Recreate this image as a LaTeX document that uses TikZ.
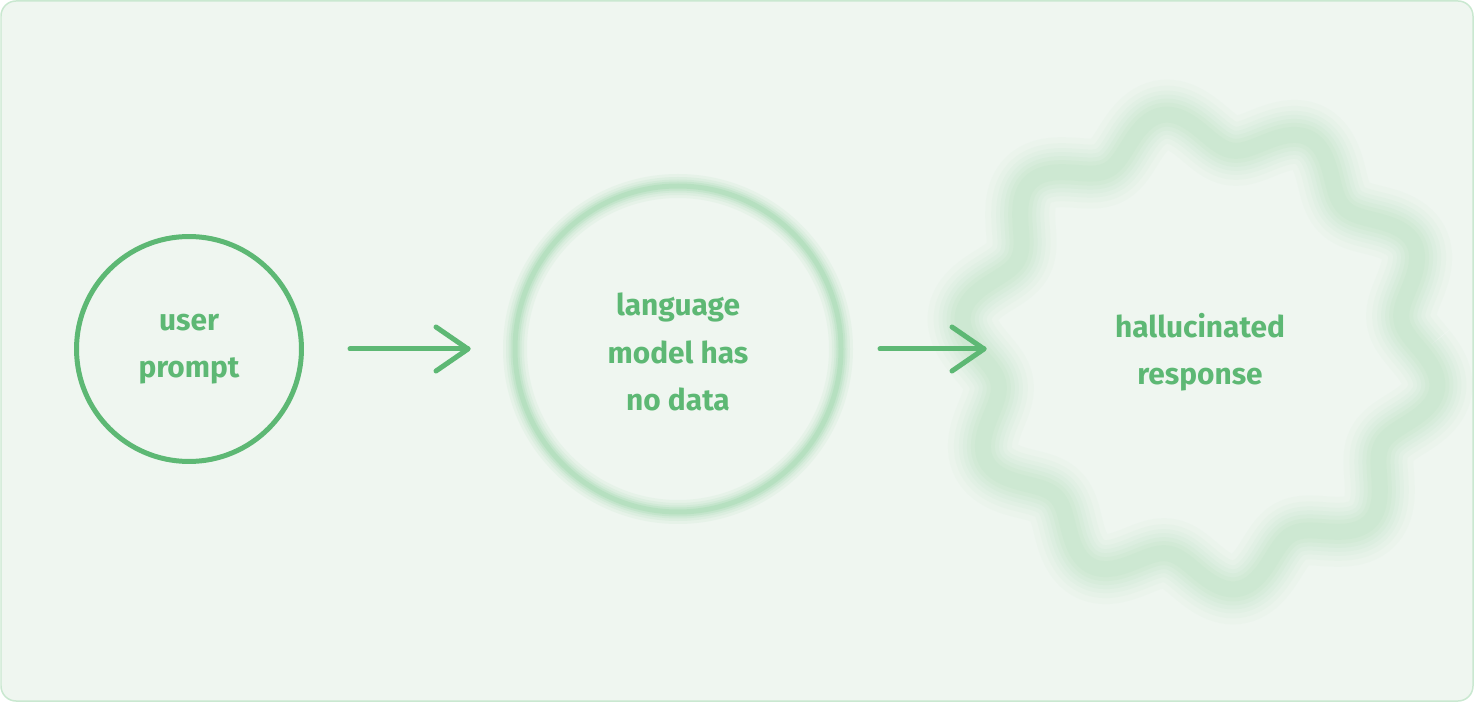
\documentclass[tikz,border=0pt]{standalone}
\usetikzlibrary{calc}
\usepackage{fontspec}
\setmainfont{Fira Sans}
\begin{document}
\begin{tikzpicture}[x=0.02cm,y=-0.02cm,
  lbl/.style={text=gr, font=\fontsize{17}{27}\selectfont\bfseries, align=center},
  arr/.style={draw=gr, line width=0.1cm, line cap=round, line join=round},
]
\definecolor{gr}{HTML}{5DB874}
\definecolor{bg}{HTML}{EFF6F0}
\definecolor{bd}{HTML}{C9E8D0}
\definecolor{blur}{HTML}{A6DBB3}
\useasboundingbox (0,0) rectangle (1474,702);
\draw[bd, fill=bg, line width=0.03cm, rounded corners=0.3cm] (1,1) rectangle (1473,701);
% circle 1
\node[circle, draw=gr, line width=0.1cm, minimum size=4.5cm] (c1) at (189,349) {};
\node[lbl] (t1) at (189,349) {user\\prompt};
% blurred circle 2
\coordinate (c2) at (678,349);
\foreach \w/\o in {24/0.12,18/0.15,13/0.2,9/0.3,5/0.45}
  \draw[blur, opacity=\o, line width=\w*0.02cm] (c2) circle[radius=163*0.02cm];
\node[lbl] (t2) at (678,352) {language\\model has\\no data};
% blurred wavy shape 3
\coordinate (c3) at (1200,352);
\foreach \w/\o in {70/0.05,58/0.06,48/0.07,40/0.08,32/0.09,24/0.1,16/0.1}
  \draw[blur, opacity=\o, line width=\w*0.02cm, shift={(c3)}]
    plot[domain=0:360, samples=240, smooth cycle] (\x:{(222+18*cos(10*\x+90))*0.02cm});
\node[lbl] (t3) at (1200,352) {hallucinated\\response};
% arrows
\coordinate (a1s) at (350,349); \coordinate (a1e) at (468,349);
\draw[arr] (a1s) -- (a1e);
\draw[arr] ($(a1e)+(-32,-22)$) -- (a1e) -- ($(a1e)+(-32,22)$);
\coordinate (a2s) at (880,349); \coordinate (a2e) at (984,349);
\draw[arr] (a2s) -- (a2e);
\draw[arr] ($(a2e)+(-32,-22)$) -- (a2e) -- ($(a2e)+(-32,22)$);
\end{tikzpicture}
\end{document}
